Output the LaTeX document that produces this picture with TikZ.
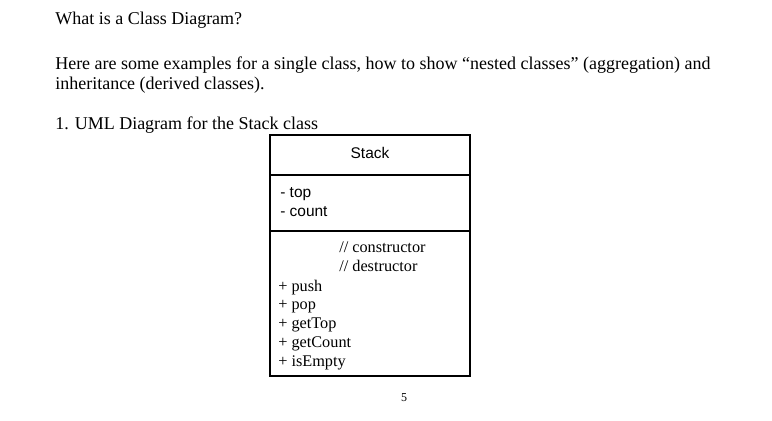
\documentclass[tikz,border=0pt]{standalone}
\usepackage{fontspec}
\setmainfont{Liberation Serif}
\newfontfamily\arialf{Liberation Sans}
\begin{document}
\begin{tikzpicture}[x=0.75pt,y=-0.75pt,
  txt/.style={anchor=base west,inner sep=0pt,font=\fontsize{13.5}{16}\selectfont},
  small/.style={anchor=base west,inner sep=0pt,font=\fontsize{12.2}{14}\selectfont},
  smallsans/.style={anchor=base west,inner sep=0pt,font=\arialf\fontsize{11.6}{14}\selectfont}]
\useasboundingbox (0,0) rectangle (772,421);
\node[txt] (title) at (55,24) {What is a Class Diagram?};
\node[txt] (p1) at (55,69) {Here are some examples for a single class, how to show “nested classes” (aggregation) and};
\node[txt] (p2) at (55,89) {inheritance (derived classes).};
\node[txt] (h1) at (55,129) {1. UML Diagram for the Stack class};
\draw[line width=0.8pt] (270,135) rectangle (470,376);
\draw[line width=0.8pt] (270,175) -- (470,175);
\draw[line width=0.8pt] (270,231) -- (470,231);
\node[smallsans,anchor=base] (nm) at (370,158) {Stack};
\node[smallsans] (a1) at (280,197) {- top};
\node[smallsans] (a2) at (280,216) {- count};
\node[small] (c1) at (339,252) {// constructor};
\node[small] (c2) at (339,271) {// destructor};
\node[small] (m1) at (278,291) {+ push};
\node[small] (m2) at (278,309) {+ pop};
\node[small] (m3) at (278,328) {+ getTop};
\node[small] (m4) at (278,347) {+ getCount};
\node[small] (m5) at (278,366) {+ isEmpty};
\node[small,anchor=base,font=\fontsize{9}{10}\selectfont] (pg) at (404,401) {5};
\end{tikzpicture}
\end{document}
